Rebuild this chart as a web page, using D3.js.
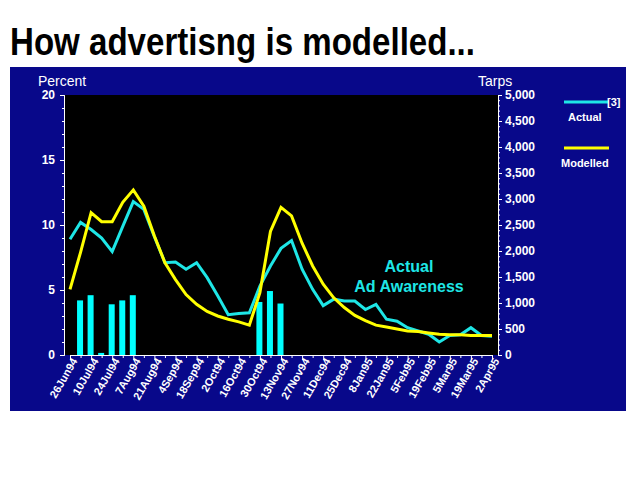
<!DOCTYPE html>
<html><head><meta charset="utf-8">
<script src="https://cdn.jsdelivr.net/npm/d3@7"></script>
<style>body{margin:0;background:#fff}</style>
</head><body>
<svg id="chart" width="638" height="478"></svg>
<script>
// week labels (every other week is labelled)
let weekLabels = ["26Jun94","10Jul94","24Jul94","7Aug94","21Aug94","4Sep94","18Sep94","2Oct94","16Oct94","30Oct94",
  "13Nov94","27Nov94","11Dec94","25Dec94","8Jan95","22Jan95","5Feb95","19Feb95","5Mar95","19Mar95","2Apr95"];
let actual = [8.9,10.2,9.65,9.0,7.95,9.9,11.8,11.2,9.1,7.1,7.15,6.6,7.1,5.95,4.55,3.1,3.2,3.25,5.3,6.85,
  8.2,8.8,6.6,5.05,3.8,4.3,4.15,4.15,3.5,3.9,2.75,2.6,2.1,1.85,1.6,1.0,1.5,1.55,2.1,1.5,1.45];
let modelled = [5.05,7.9,10.95,10.25,10.25,11.75,12.7,11.45,9.15,7.1,5.8,4.65,3.9,3.35,3.0,2.75,2.55,2.3,4.8,9.5,
  11.35,10.7,8.6,6.85,5.45,4.4,3.65,3.05,2.65,2.3,2.15,2.0,1.85,1.8,1.7,1.6,1.55,1.55,1.5,1.5,1.5];
let tarpWeeks = [1,2,3,4,5,6,18,19,20];
let tarps = [1050,1150,40,975,1050,1150,1020,1230,990];

let svg = d3.select("#chart");
let font = "Liberation Sans, Arial, sans-serif";

svg.append("text").attr("x", 10).attr("y", 55)
  .attr("font-family", "Liberation Sans Narrow, Arial Narrow, sans-serif").attr("font-weight", "bold")
  .attr("font-size", 38).attr("textLength", 465).attr("lengthAdjust", "spacingAndGlyphs")
  .text("How advertisng is modelled...");

svg.append("rect").attr("x", 10).attr("y", 67).attr("width", 616).attr("height", 344).attr("fill", "#08088a");

let pLeft = 64, pRight = 498, pTop = 95, pBottom = 355;
svg.append("rect").attr("x", pLeft).attr("y", pTop).attr("width", pRight - pLeft).attr("height", pBottom - pTop).attr("fill", "#000");

let x = d3.scaleLinear().domain([0, 40]).range([70, 492]);
let yP = d3.scaleLinear().domain([0, 20]).range([pBottom, pTop]);
let yT = d3.scaleLinear().domain([0, 5000]).range([pBottom, pTop]);

// bars
svg.selectAll(".bar").data(tarps).join("rect")
  .attr("x", (d, i) => x(tarpWeeks[i]) - 3.5).attr("width", 6)
  .attr("y", d => yT(d)).attr("height", d => pBottom - yT(d)).attr("fill", "#00ffff");

let line = d3.line().x((d, i) => x(i)).y(d => yP(d));
svg.append("path").datum(actual).attr("d", line).attr("fill", "none").attr("stroke", "#1ee6e6").attr("stroke-width", 3);
svg.append("path").datum(modelled).attr("d", line).attr("fill", "none").attr("stroke", "#ffff00").attr("stroke-width", 3);

// axes
svg.append("g").attr("transform", `translate(${pLeft},0)`)
  .call(d3.axisLeft(yP).tickValues([0,5,10,15,20]).tickSize(4).tickPadding(5));
svg.append("g").attr("transform", `translate(${pLeft},0)`)
  .call(d3.axisLeft(yP).ticks(20).tickSize(2).tickFormat(""));
svg.append("g").attr("transform", `translate(${pRight},0)`)
  .call(d3.axisRight(yT).tickValues(d3.range(0, 5001, 500)).tickSize(4).tickPadding(3));
svg.append("g").attr("transform", `translate(${pRight},0)`)
  .call(d3.axisRight(yT).ticks(50).tickSize(2).tickFormat(""));
let axB = svg.append("g").attr("transform", `translate(0,${pBottom})`)
  .call(d3.axisBottom(x).tickValues(d3.range(0, 41, 2)).tickSize(5).tickFormat((d) => weekLabels[d / 2]));
svg.append("g").attr("transform", `translate(0,${pBottom})`)
  .call(d3.axisBottom(x).tickValues(d3.range(1, 41, 2)).tickSize(3).tickFormat(""));
svg.selectAll(".domain, .tick line").attr("stroke", "#fff");
svg.selectAll(".tick text").attr("fill", "#fff").attr("font-family", font).attr("font-weight", "bold").attr("font-size", 12);
axB.selectAll(".tick text").attr("font-size", 11).attr("text-anchor", "end")
  .attr("transform", "translate(4,4) rotate(-60)").attr("dy", "0.35em").attr("y", 0);

svg.append("text").attr("x", 38).attr("y", 86).attr("fill", "#fff").attr("font-family", font).attr("font-size", 14).text("Percent");
svg.append("text").attr("x", 478).attr("y", 86).attr("fill", "#fff").attr("font-family", font).attr("font-size", 14).text("Tarps");

// legend
let lg = svg.append("g").attr("font-family", font).attr("font-weight", "bold").attr("font-size", 11).attr("fill", "#fff");
lg.append("line").attr("x1", 564).attr("x2", 608).attr("y1", 102).attr("y2", 102).attr("stroke", "#1ee6e6").attr("stroke-width", 3);
lg.append("text").attr("x", 607).attr("y", 106).text("[3]");
lg.append("text").attr("x", 568).attr("y", 121).text("Actual");
lg.append("line").attr("x1", 564).attr("x2", 609).attr("y1", 148).attr("y2", 148).attr("stroke", "#ffff00").attr("stroke-width", 3);
lg.append("text").attr("x", 561).attr("y", 167).text("Modelled");

let ann = svg.append("g").attr("font-family", font).attr("font-weight", "bold").attr("font-size", 16)
  .attr("fill", "#1ee6e6").attr("text-anchor", "middle");
ann.append("text").attr("x", 409).attr("y", 272).text("Actual");
ann.append("text").attr("x", 409).attr("y", 292).text("Ad Awareness");
</script>
</body></html>
